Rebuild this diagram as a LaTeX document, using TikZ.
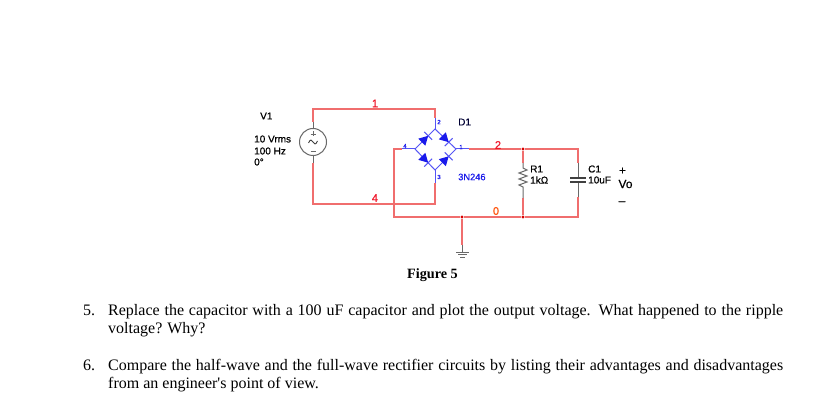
\documentclass[tikz,border=0pt]{standalone}
\usepackage{fontspec}
\setmainfont{Liberation Serif}
\newfontfamily\ckt{Liberation Sans}[FakeBold=0.5]
\usetikzlibrary{calc}
\definecolor{wire}{RGB}{240,110,110}
\definecolor{lead}{RGB}{105,105,105}
\definecolor{pinb}{RGB}{85,85,245}
\definecolor{dio}{RGB}{25,25,235}
\definecolor{netred}{RGB}{240,20,40}
\tikzset{
  wire/.style={draw=wire,line width=1.15pt},
  lead/.style={draw=lead,line width=1pt},
  pin/.style={draw=pinb,line width=1pt},
  dot/.style={circle,fill=red!85!black,inner sep=0pt,minimum size=3.2pt},
  lab/.style={inner sep=0pt,anchor=west,font=\ckt\fontsize{10}{12}\selectfont},
  net/.style={inner sep=0pt,text=netred,font=\ckt\fontsize{11}{12}\selectfont},
  pinlab/.style={inner sep=0pt,text=dio,font=\ckt\fontsize{6}{7}\selectfont},
  body/.style={inner sep=0pt,anchor=base west,font=\fontsize{16}{18}\selectfont},
  pics/diode/.style={code={
    \fill[dio] (-4.5,-5) -- (-4.5,5) -- (4.5,0) -- cycle;
    \draw[pinb,line width=1pt] (4.5,-5.5) -- (4.5,5.5);
  }}
}
\begin{document}
\begin{tikzpicture}[x=1pt,y=-1pt]
\useasboundingbox (0,0) rectangle (833,409);
\fill[white] (0,0) rectangle (833,409);

% junctions and pin ends
\coordinate (tl) at (313,109);
\coordinate (tr) at (435,109);
\coordinate (bl) at (313,204);
\coordinate (br) at (435,204);
\coordinate (srctop) at (313,122);
\coordinate (srcbot) at (313,163);
\coordinate (pin2) at (435,118);
\coordinate (pin3) at (435,183);
\coordinate (pin4) at (402,149);
\coordinate (pin1) at (469,149);
\coordinate (bt) at (435,129);
\coordinate (bb) at (435,170);
\coordinate (bL) at (415,149);
\coordinate (bR) at (456,149);
\coordinate (lc) at (394,149);
\coordinate (ld) at (394,217);
\node[dot] (j2) at (523,149) {};
\node[dot] (j0) at (523,217) {};
\node[dot] (jg) at (462,217) {};
\coordinate (ct) at (578,149);
\coordinate (cb) at (578,217);
\coordinate (rt) at (523,163);
\coordinate (rb) at (523,198);
\coordinate (ctl) at (578,163);
\coordinate (cbl) at (578,197);
\coordinate (gw) at (462,245);
\coordinate (gb) at (462,252);

% wires
\draw[wire] (srctop) -- (tl) -- (tr) -- (pin2);
\draw[wire] (srcbot) -- (bl) -- (br) -- (pin3);
\draw[wire] (pin4) -- (lc) -- (ld) -- (jg) -- (j0) -- (cb) -- (cbl);
\draw[wire] (pin1) -- (j2) -- (ct) -- (ctl);
\draw[wire] (j2) -- (rt);
\draw[wire] (j0) -- (rb);
\draw[wire] (jg) -- (gw);

% source
\node[circle,draw=lead,line width=1pt,minimum size=27pt,inner sep=0pt,fill=white] (src) at (313,142) {};
\draw[lead] (srctop) -- (src.north);
\draw[lead] (srcbot) -- (src.south);
\draw[lead,line width=.9pt] (310.5,134) -- (315.5,134) (313,131.5) -- (313,136.5);
\draw[lead,line width=.9pt] (310.5,151) -- (315.5,151);
\draw[black!75,line width=.9pt] (308.5,143) .. controls (310.5,138.5) and (312,140) .. (313,142) .. controls (314,144) and (315.5,145.5) .. (317.5,141);

% bridge
\draw[pin] (bt) -- (bR) -- (bb) -- (bL) -- cycle;
\draw[pin] (pin2) -- (bt);
\draw[pin] (bb) -- (pin3);
\draw[pin] (bL) -- (pin4);
\draw[pin] (bR) -- (pin1);
\pic[rotate=45] at ($(bL)!.5!(bt)$) {diode};
\pic[rotate=-45] at ($(bt)!.5!(bR)$) {diode};
\pic[rotate=-45] at ($(bL)!.5!(bb)$) {diode};
\pic[rotate=45] at ($(bb)!.5!(bR)$) {diode};

% resistor
\draw[lead,line join=miter] (rt) -- (523,168) -- (527,170) -- (519,173) -- (527,176) -- (519,179) -- (527,182) -- (519,185) -- (523,187) -- (523,190) -- (rb);

% capacitor
\draw[lead] (ctl) -- (578,178);
\draw[lead] (cbl) -- (578,182);
\draw[draw=black!75,line width=1.3pt] (570,178) -- (586,178);
\draw[draw=black!75,line width=1.3pt] (570,182) -- (586,182);

% ground
\draw[lead] (gw) -- (gb);
\draw[lead] (456,252) -- (469,252);
\draw[lead,line width=.8pt] (458,254.5) -- (467,254.5);
\draw[lead,line width=.8pt] (460,257) -- (465,257);

% component labels
\node[lab] (v1) at (260,116) {V1};
\node[lab] (vr) at (254,139) {10 Vrms};
\node[lab] (hz) at (254,151) {100 Hz};
\node[lab] (ph) at (254,162) {0°};
\node[lab,text=black!80!blue] (d1) at (458,122) {D1};
\node[lab,text=dio,font=\ckt\fontsize{9.3}{12}\selectfont] (model) at (458,177) {3N246};
\node[lab] (r1) at (530,169) {R1};
\node[lab] (rv) at (530,180) {1kΩ};
\node[lab] (c1) at (588,169) {C1};
\node[lab] (cv) at (588,180) {10uF};
\node[lab,anchor=center,font=\ckt\fontsize{12}{12}\selectfont] (vp) at (622.5,171) {+};
\node[lab,anchor=center,font=\ckt\fontsize{12}{12}\selectfont] (vo) at (625.5,184) {Vo};
\node[lab,anchor=center,font=\ckt\fontsize{12}{12}\selectfont] (vm) at (622,203) {–};

% net labels
\node[net] (n1) at (375,103.5) {1};
\node[net] (n4) at (375,198) {4};
\node[net] (n2) at (498,145) {2};
\node[net,text=orange!60!red] (n0) at (496,211) {0};

% pin labels
\node[pinlab] (p2) at (439,122) {2};
\node[pinlab] (p3) at (439,177) {3};
\node[pinlab] (p4) at (405,146) {4};
\node[pinlab] (p1) at (461,147) {1};

% text below
\node[inner sep=0pt,anchor=base west,font=\bfseries\fontsize{14.2}{16}\selectfont] (fig) at (407,278) {Figure 5};
\node[body] (q5) at (83,315.5) {5.};
\node[body] (l1) at (108,315.5) {\makebox[675pt][s]{Replace the capacitor with a 100 uF capacitor and plot the output voltage. What happened to the ripple}};
\node[body] (l2) at (108,333.5) {\makebox[95pt][s]{voltage? Why?}};
\node[body] (q6) at (83,370.5) {6.};
\node[body] (l3) at (108,370.5) {\makebox[675pt][s]{Compare the half-wave and the full-wave rectifier circuits by listing their advantages and disadvantages}};
\node[body] (l4) at (108,388) {from an engineer\textquotesingle s point of view.};
\end{tikzpicture}
\end{document}
